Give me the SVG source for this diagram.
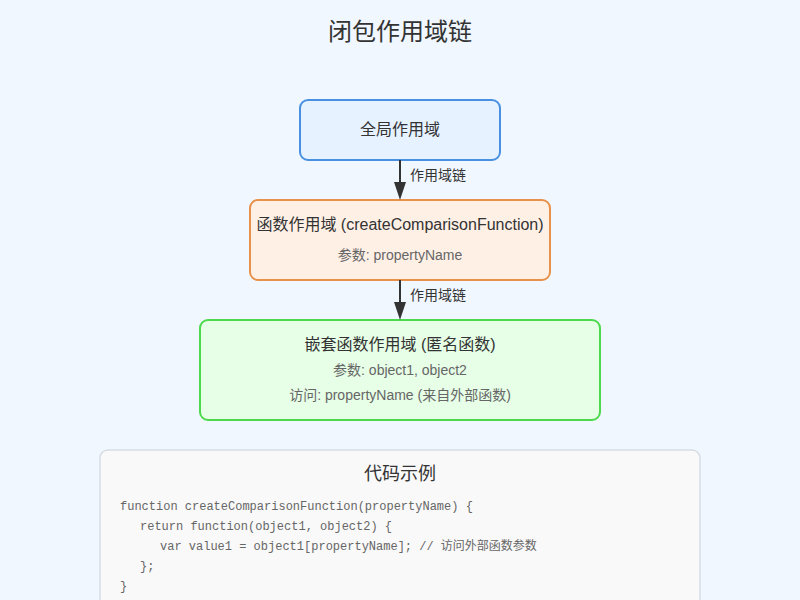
<svg xmlns="http://www.w3.org/2000/svg" width="800" height="600" viewBox="0 0 800 600">
<style>
.t{font-family:"Liberation Sans","Noto Sans CJK SC",sans-serif;text-anchor:middle}
.h{font-size:16px;fill:#333}
.s{font-size:14px;fill:#666}
.l{font-family:"Liberation Sans","Noto Sans CJK SC",sans-serif;font-size:14px;fill:#333}
.c{font-family:"Liberation Mono","Noto Sans CJK SC",monospace;font-size:12px;fill:#666}
.e{stroke:#333;stroke-width:2;fill:none}
.a{fill:#333}
</style>
<rect width="800" height="600" fill="#f0f7ff"/>
<text class="t" x="400" y="40" font-size="24" fill="#333">闭包作用域链</text>
<g id="global">
<rect x="300" y="100" width="200" height="60" rx="8" fill="#e6f2ff" stroke="#4a90e2" stroke-width="2"/>
<text class="t h" x="400" y="135">全局作用域</text>
</g>
<g id="func">
<rect x="250" y="200" width="300" height="80" rx="8" fill="#fff0e6" stroke="#e8914a" stroke-width="2"/>
<text class="t h" x="400" y="230">函数作用域 (createComparisonFunction)</text>
<text class="t s" x="400" y="260">参数: propertyName</text>
</g>
<g id="nested">
<rect x="200" y="320" width="400" height="100" rx="8" fill="#e6ffe6" stroke="#4cd94c" stroke-width="2"/>
<text class="t h" x="400" y="350">嵌套函数作用域 (匿名函数)</text>
<text class="t s" x="400" y="375">参数: object1, object2</text>
<text class="t s" x="400" y="400">访问: propertyName (来自外部函数)</text>
</g>
<g id="connectors">
<line class="e" x1="400" y1="160" x2="400" y2="184"/>
<path class="a" d="M394,182 L406,182 L400,200 Z"/>
<text class="l" x="410" y="180">作用域链</text>
<line class="e" x1="400" y1="280" x2="400" y2="304"/>
<path class="a" d="M394,302 L406,302 L400,320 Z"/>
<text class="l" x="410" y="300">作用域链</text>
</g>
<g id="code">
<rect x="100" y="450" width="600" height="160" rx="8" fill="#f9f9f9" stroke="#d5dde5" stroke-width="1.5"/>
<text class="t" x="400" y="480" font-size="18" fill="#333">代码示例</text>
<text class="c" x="120" y="510">function createComparisonFunction(propertyName) {</text>
<text class="c" x="140" y="530">return function(object1, object2) {</text>
<text class="c" x="160" y="550">var value1 = object1[propertyName]; // 访问外部函数参数</text>
<text class="c" x="140" y="570">};</text>
<text class="c" x="120" y="590">}</text>
</g>
</svg>
